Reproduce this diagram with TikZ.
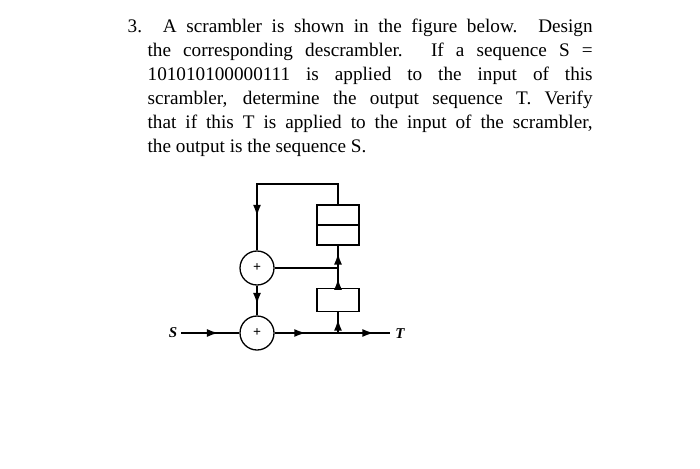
\documentclass[tikz,border=0pt]{standalone}
\usepackage{fontspec}
\setmainfont{Liberation Serif}
\usetikzlibrary{decorations.markings,arrows.meta}
\begin{document}
\begin{tikzpicture}[x=1pt,y=-1pt,line width=1.3pt,
    xor/.style={circle,draw,minimum size=34pt,inner sep=0pt,font=\fontsize{14}{14}\selectfont\bfseries},
    reg/.style={draw,line width=1.8pt,minimum width=42pt,inner sep=0pt},
    lbl/.style={font=\fontsize{15}{15}\selectfont\bfseries\itshape},
    mid/.style={decoration={markings,mark=at position #1 with {\arrow[scale=2]{Latex[length=6pt,width=4pt]}}},postaction=decorate}]
    \useasboundingbox (0,0) rectangle (700,468);
    % problem text
    \node[anchor=north west,inner sep=0pt,font=\fontsize{19.2}{24}\selectfont] (txt) at (127,18)
      {\parbox{465pt}{\hangindent=20pt\hangafter=1 3. A scrambler is shown in the figure below. Design\linebreak
       the corresponding descrambler. If a sequence S =\linebreak
       101010100000111 is applied to the input of this\linebreak
       scrambler, determine the output sequence T. Verify\linebreak
       that if this T is applied to the input of the scrambler,\linebreak
       the output is the sequence S.}};
    % scrambler
    \node[xor] (xa) at (257,268) {+};
    \node[xor] (xb) at (257,333) {+};
    \node[reg,minimum height=20pt] (r1) at (338,215) {};
    \node[reg,minimum height=20pt] (r2) at (338,235) {};
    \node[reg,minimum height=23pt] (r3) at (338,300) {};
    \node[lbl] (s) at (173,333) {S};
    \node[lbl] (t) at (400,334) {T};
    \coordinate (tap) at (338,333);
    \coordinate (jn) at (338,268);
    \coordinate (out) at (390,333);
    \draw[mid=0.65] (s) -- (xb);
    \draw[mid=0.5] (xb) -- (tap);
    \draw[mid=0.7] (tap) -- (out);
    \draw[mid=0.7] (tap) -- (r3);
    \draw[mid=0.5] (r3) -- (jn);
    \draw[mid=0.7] (jn) -- (r2);
    \draw (xa) -- (jn);
    \draw[mid=0.65] (xa) -- (xb);
    \draw[mid=0.8] (r1.north) |- (257,184) -- (xa);
\end{tikzpicture}
\end{document}
